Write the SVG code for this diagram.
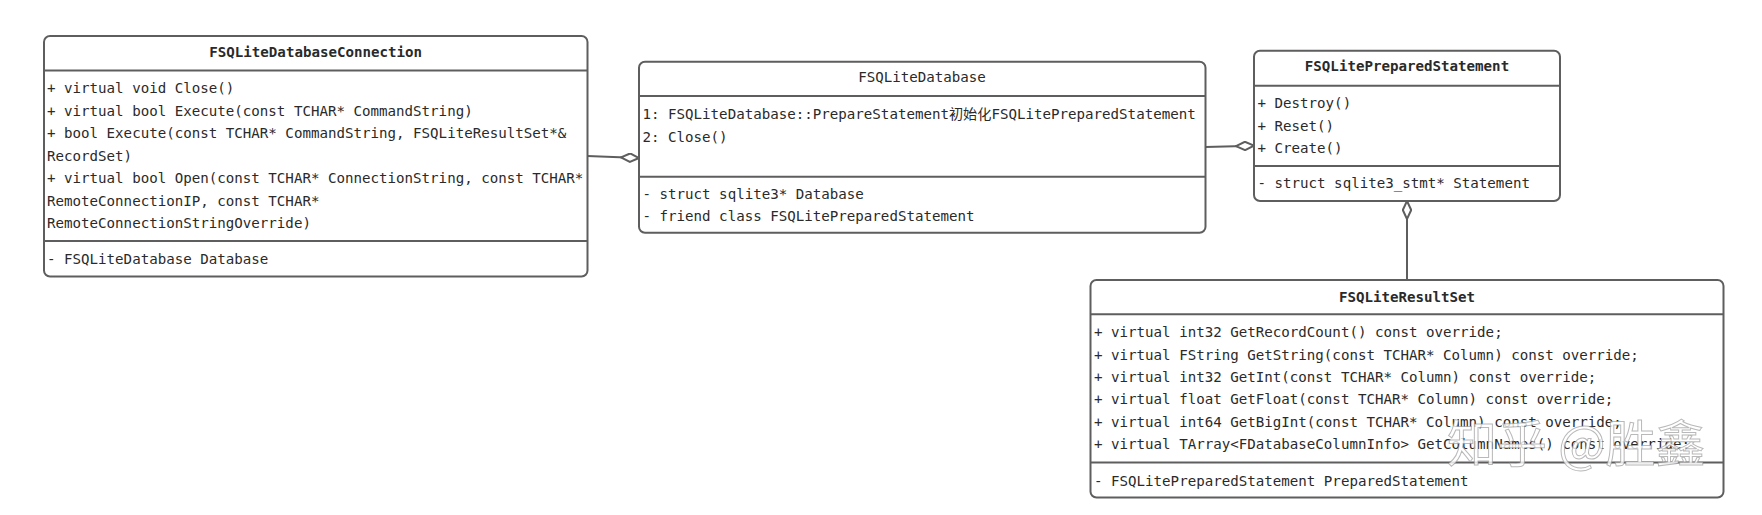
<svg xmlns="http://www.w3.org/2000/svg" width="1762" height="515" viewBox="0 0 1762 515">
<defs>
<style>
.box{fill:#fff;stroke:#5e5e5e;stroke-width:2}
.sep{stroke:#5e5e5e;stroke-width:2;fill:none}
.t{font-family:"DejaVu Sans Mono","Liberation Mono","Noto Sans CJK SC",monospace;font-size:14.15px;fill:#2a2a2a}
.title{text-anchor:middle}
.b{font-weight:bold}
.conn{stroke:#5e5e5e;stroke-width:2;fill:none}
.wm{font-family:"Noto Sans CJK SC","Noto Sans",sans-serif;font-size:50px;fill:#fff;fill-opacity:0.8;stroke:#8a8a8a;stroke-opacity:0.6;stroke-width:1}
</style>
<marker id="diamond" viewBox="0 0 20 10" refX="19" refY="5" markerWidth="20" markerHeight="10" markerUnits="userSpaceOnUse" orient="auto">
<path d="M1,5 L10,0.8 L19,5 L10,9.2 Z" fill="#fff" stroke="#5e5e5e" stroke-width="2"/>
</marker>
</defs>
<rect width="1762" height="515" fill="#fff"/>

<g id="connectors">
<path class="conn" d="M587.3,156 L639,158" marker-end="url(#diamond)"/>
<path class="conn" d="M1205.5,147 L1254,145.7" marker-end="url(#diamond)"/>
<path class="conn" d="M1407,280 L1407,201" marker-end="url(#diamond)"/>
</g>

<g id="FSQLiteDatabaseConnection">
<rect class="box" x="44" y="36" width="543.5" height="240.5" rx="6"/>
<line class="sep" x1="44" y1="70.5" x2="587.5" y2="70.5"/>
<line class="sep" x1="44" y1="241" x2="587.5" y2="241"/>
<text class="t title b" x="315.7" y="56.7">FSQLiteDatabaseConnection</text>
<text class="t" x="47" y="93.3">+ virtual void Close()</text>
<text class="t" x="47" y="115.8">+ virtual bool Execute(const TCHAR* CommandString)</text>
<text class="t" x="47" y="138.3">+ bool Execute(const TCHAR* CommandString, FSQLiteResultSet*&amp;</text>
<text class="t" x="47" y="160.8">RecordSet)</text>
<text class="t" x="47" y="183.3">+ virtual bool Open(const TCHAR* ConnectionString, const TCHAR*</text>
<text class="t" x="47" y="205.8">RemoteConnectionIP, const TCHAR*</text>
<text class="t" x="47" y="228.3">RemoteConnectionStringOverride)</text>
<text class="t" x="47" y="264.3">- FSQLiteDatabase Database</text>
</g>

<g id="FSQLiteDatabase">
<rect class="box" x="639" y="61.7" width="566.5" height="171" rx="6"/>
<line class="sep" x1="639" y1="96" x2="1205.5" y2="96"/>
<line class="sep" x1="639" y1="176.7" x2="1205.5" y2="176.7"/>
<text class="t title" x="922" y="82.3">FSQLiteDatabase</text>
<text class="t" x="642.5" y="119">1: FSQLiteDatabase::PrepareStatement初始化FSQLitePreparedStatement</text>
<text class="t" x="642.5" y="141.5">2: Close()</text>
<text class="t" x="642.5" y="199.3">- struct sqlite3* Database</text>
<text class="t" x="642.5" y="221">- friend class FSQLitePreparedStatement</text>
</g>

<g id="FSQLitePreparedStatement">
<rect class="box" x="1254" y="50.7" width="306" height="150.3" rx="6"/>
<line class="sep" x1="1254" y1="85.7" x2="1560" y2="85.7"/>
<line class="sep" x1="1254" y1="166" x2="1560" y2="166"/>
<text class="t title b" x="1407" y="71">FSQLitePreparedStatement</text>
<text class="t" x="1257.5" y="108.3">+ Destroy()</text>
<text class="t" x="1257.5" y="130.8">+ Reset()</text>
<text class="t" x="1257.5" y="153.3">+ Create()</text>
<text class="t" x="1257.5" y="188.3">- struct sqlite3_stmt* Statement</text>
</g>

<g id="FSQLiteResultSet">
<rect class="box" x="1090.5" y="280" width="633" height="217.5" rx="6"/>
<line class="sep" x1="1090.5" y1="314.3" x2="1723.5" y2="314.3"/>
<line class="sep" x1="1090.5" y1="462.5" x2="1723.5" y2="462.5"/>
<text class="t title b" x="1407" y="301.7">FSQLiteResultSet</text>
<text class="t" x="1094" y="337.3">+ virtual int32 GetRecordCount() const override;</text>
<text class="t" x="1094" y="359.6">+ virtual FString GetString(const TCHAR* Column) const override;</text>
<text class="t" x="1094" y="381.9">+ virtual int32 GetInt(const TCHAR* Column) const override;</text>
<text class="t" x="1094" y="404.2">+ virtual float GetFloat(const TCHAR* Column) const override;</text>
<text class="t" x="1094" y="426.5">+ virtual int64 GetBigInt(const TCHAR* Column) const override;</text>
<text class="t" x="1094" y="448.8">+ virtual TArray&lt;FDatabaseColumnInfo&gt; GetColumnNames() const override;</text>
<text class="t" x="1094" y="485.7">- FSQLitePreparedStatement PreparedStatement</text>
</g>

<g id="watermark">
<text class="wm" x="1447" y="462">知乎 @胜鑫</text>
</g>
</svg>
